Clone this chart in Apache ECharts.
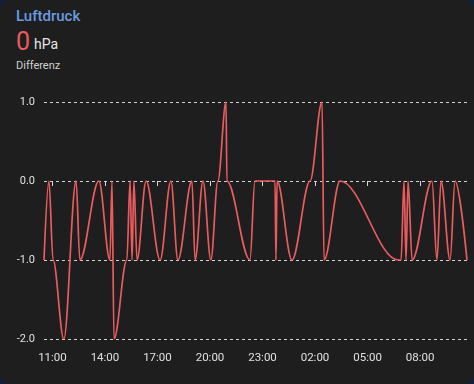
<!DOCTYPE html>
<html>
<head>
<meta charset="utf-8">
<script src="https://cdn.jsdelivr.net/npm/echarts@6/dist/echarts.min.js"></script>
<style>
html,body{margin:0;padding:0;width:474px;height:384px;background:#10203a;overflow:hidden;}
#card{position:absolute;left:0;top:0;width:474px;height:384px;background:#1e1e1e;border-radius:10px;overflow:hidden;font-family:Roboto,"Noto Sans",sans-serif;}
#title{position:absolute;left:16px;top:7px;font-size:15px;font-weight:500;color:#6a9be0;}
#val{position:absolute;left:16px;top:27px;font-size:25px;color:#e85c5f;}
#unit{position:absolute;left:34px;top:36px;font-size:14px;color:#e6e6e6;}
#sub{position:absolute;left:16px;top:59px;font-size:11px;color:#d0d0d0;}
#chart{position:absolute;left:0;top:0;width:474px;height:384px;}
</style>
</head>
<body>
<div id="card">
  <div id="title">Luftdruck</div>
  <div id="val">0</div>
  <div id="unit">hPa</div>
  <div id="sub">Differenz</div>
  <div id="chart"></div>
</div>
<script>
// Sample times (HH:MM, spanning midnight) and pressure difference values (hPa)
const times = ['10:31','10:48','11:02','11:39','12:21','12:34','13:39','14:17','14:24','14:31','15:15','15:26','15:33','15:39','15:50','16:21','17:09','17:46','18:10','18:58','19:09','19:36','20:03','20:27','20:55','20:58','22:17','22:34','23:43','23:46','23:50','00:41','01:43','02:24','02:31','03:26','06:45','06:55','07:05','07:12','07:19','07:33','08:41','08:58','09:12','09:43','10:00','10:41'];
const values = [-1,0,-1,-2,0,-1,0,-1,0,-2,-1,0,-1,0,-1,0,-1,0,-1,0,-1,0,-1,0,1,0,-1,0,0,-1,0,-1,0,1,-1,0,-1,-1,0,-1,0,-1,0,-1,0,-1,0,-1];
const tickHours = [11,14,17,20,23,26,29,32];
const yTicks = [-2,-1,0,1];

function toHours(list){
  const out=[]; let add=0, prev=-1;
  list.forEach(t=>{const [h,m]=t.split(':').map(Number); let v=h+m/60+add; if(v<prev){add+=24; v+=24;} prev=v; out.push(v);});
  return out;
}
const hrs = toHours(times);
const data = hrs.map((h,i)=>[h, values[i]]);

const chart = echarts.init(document.getElementById('chart'), null, {renderer:'canvas'});
chart.setOption({
  animation:false,
  grid:{left:44,right:7,top:102,bottom:45},
  xAxis:{
    type:'value', min:hrs[0], max:hrs[hrs.length-1],
    axisLine:{show:false},
    splitLine:{show:false},
    axisTick:{show:true, length:5, customValues:tickHours, lineStyle:{color:'#d8d8d8'}},
    axisLabel:{customValues:tickHours, color:'#e0e0e0', fontSize:11.5, margin:13, fontFamily:'Roboto',
      formatter:v=>String(Math.round(v)%24).padStart(2,'0')+':00'}
  },
  yAxis:{
    type:'value', min:yTicks[0], max:yTicks[yTicks.length-1], interval:1,
    axisLine:{show:false}, axisTick:{show:false},
    axisLabel:{color:'#e0e0e0', fontSize:11, margin:9, fontFamily:'Roboto', formatter:v=>v.toFixed(1)},
    splitLine:{show:true, lineStyle:{color:'#d0d0d0', type:[3,3], width:1}}
  },
  series:[{
    type:'line', data:data, showSymbol:false, smooth:0.35, smoothMonotone:'x',
    lineStyle:{color:'#e85c5f', width:1.7}
  }]
});
</script>
</body>
</html>
